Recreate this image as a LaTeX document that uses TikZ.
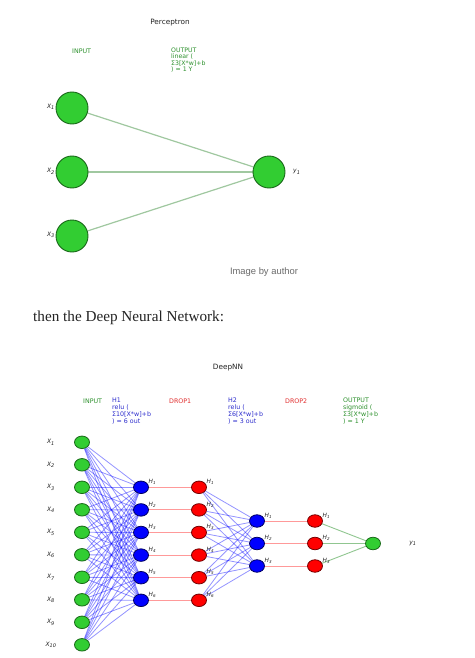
\documentclass[tikz,border=0pt]{standalone}
\usepackage{fontspec}
\setmainfont{DejaVu Sans}
\newfontfamily\serifff{Liberation Serif}
\newfontfamily\medsans{Liberation Sans}
\usetikzlibrary{shapes.geometric,backgrounds}
\pgfdeclarelayer{edgelayer}
\pgfsetlayers{background,edgelayer,main}
\definecolor{ngreen}{RGB}{50,205,50}
\definecolor{ngreenb}{RGB}{25,105,25}
\definecolor{nblue}{RGB}{0,0,255}
\definecolor{nblueb}{RGB}{0,0,95}
\definecolor{nred}{RGB}{255,0,0}
\definecolor{nredb}{RGB}{115,0,0}
\definecolor{tgreen}{RGB}{45,145,45}
\definecolor{tblue}{RGB}{45,45,205}
\definecolor{tred}{RGB}{225,45,45}
\definecolor{pedge}{RGB}{160,200,160}
\definecolor{titlec}{RGB}{35,35,35}
\tikzset{
  pnode/.style={circle,minimum size=32pt,inner sep=0pt,fill=ngreen,draw=ngreenb,line width=0.9pt},
  dnode/.style={ellipse,minimum width=15pt,minimum height=12.5pt,inner sep=0pt,line width=0.8pt},
  gnode/.style={dnode,fill=ngreen,draw=ngreenb},
  bnode/.style={dnode,fill=nblue,draw=nblueb},
  rnode/.style={dnode,fill=nred,draw=nredb},
  pedgestyle/.style={draw=pedge,line width=1.2pt},
  bedge/.style={draw=nblue,draw opacity=0.42,line width=0.8pt},
  redge/.style={draw=nred,draw opacity=0.4,line width=0.9pt},
  gedge/.style={draw=ngreen!70!black,draw opacity=0.5,line width=0.9pt},
  small/.style={font=\fontsize{6.3}{6.8}\selectfont,inner sep=0pt,align=left},
  xlab/.style={font=\fontsize{6}{6}\selectfont\itshape,inner sep=0pt,text=titlec},
  hlab/.style={font=\fontsize{5.8}{5.8}\selectfont\itshape,inner sep=0pt,anchor=west,text=titlec},
}
\begin{document}
\begin{tikzpicture}[x=1pt,y=-1pt]
\begin{pgfonlayer}{background}
\fill[white] (0,0) rectangle (474,658);
\end{pgfonlayer}
\useasboundingbox (0,0) rectangle (474,658);

% ---------- Perceptron ----------
\node[font=\fontsize{7.3}{8}\selectfont,text=titlec,inner sep=0pt] (ptitle) at (170,23) {Perceptron};
\node[small,text=tgreen,anchor=west] (pin) at (72,51) {INPUT};
\node[small,text=tgreen,anchor=north west,font=\fontsize{6.2}{6.4}\selectfont] (pout) at (171,47.5) {OUTPUT\\linear (\\Σ3[X*w]+b\\) = 1 Y};

\node[pnode] (p1) at (72,108) {};
\node[pnode] (p2) at (72,172) {};
\node[pnode] (p3) at (72,236) {};
\node[pnode] (py) at (269,172) {};
\node[xlab,anchor=east] (pl1) at (55,107) {X\textsubscript{1}};
\node[xlab,anchor=east] (pl2) at (55,171) {X\textsubscript{2}};
\node[xlab,anchor=east] (pl3) at (55,235) {X\textsubscript{3}};
\node[xlab,anchor=west] (ply) at (293,172) {y\textsubscript{1}};
\begin{pgfonlayer}{edgelayer}
\foreach \k in {1,2,3} \draw[pedgestyle] (p\k) -- (py);
\end{pgfonlayer}

\node[font=\fontsize{9.4}{10}\selectfont\medsans,text=black!58,inner sep=0pt] (cap) at (264,272) {Image by author};
\node[font=\fontsize{15.2}{16}\selectfont\serifff,text=black!86,inner sep=0pt,anchor=west] (sent) at (33,318) {then the Deep Neural Network:};

% ---------- DeepNN ----------
\node[font=\fontsize{7.3}{8}\selectfont,text=titlec,inner sep=0pt] (dtitle) at (228,368) {DeepNN};
\node[small,text=tgreen,anchor=west] (tin) at (83,401) {INPUT};
\node[small,text=tblue,anchor=north west,font=\fontsize{6.3}{7.2}\selectfont] (th1) at (112,397.5) {H1\\relu (\\Σ10[X*w]+b\\) = 6 out};
\node[small,text=tred,anchor=west] (td1) at (169,401) {DROP1};
\node[small,text=tblue,anchor=north west,font=\fontsize{6.3}{7.2}\selectfont] (th2) at (228,397.5) {H2\\relu (\\Σ6[X*w]+b\\) = 3 out};
\node[small,text=tred,anchor=west] (td2) at (285,401) {DROP2};
\node[small,text=tgreen,anchor=north west,font=\fontsize{6.3}{7.2}\selectfont] (tout) at (343,397.5) {OUTPUT\\sigmoid (\\Σ3[X*w]+b\\) = 1 Y};

\foreach \i in {1,...,10} {
  \pgfmathsetmacro\yy{442.3+22.5*(\i-1)}
  \node[gnode] (in\i) at (82,\yy) {};
  \node[xlab] (xl\i) at (51,\yy) {X\textsubscript{\i}};
}
\foreach \j in {1,...,6} {
  \pgfmathsetmacro\yy{487.3+22.6*(\j-1)}
  \node[bnode] (h\j) at (141,\yy) {};
  \node[rnode] (d\j) at (199,\yy) {};
  \node[hlab] (hl\j) at (148.5,\yy-5.5) {H\textsubscript{\j}};
  \node[hlab] (dl\j) at (206.5,\yy-5.5) {H\textsubscript{\j}};
}
\foreach \k/\yy in {1/521,2/543.5,3/566} {
  \node[bnode] (g\k) at (257,\yy) {};
  \node[rnode] (e\k) at (315,\yy) {};
  \node[hlab] (gl\k) at (264.5,\yy-5.5) {H\textsubscript{\k}};
  \node[hlab] (el\k) at (322.5,\yy-5.5) {H\textsubscript{\k}};
}
\node[gnode] (out) at (373,543.5) {};
\node[xlab] (yl) at (413,543.5) {y\textsubscript{1}};

\begin{pgfonlayer}{edgelayer}
\foreach \i in {1,...,10} \foreach \j in {1,...,6} \draw[bedge] (in\i) -- (h\j);
\foreach \j in {1,...,6} \draw[redge] (h\j) -- (d\j);
\foreach \j in {1,...,6} \foreach \k in {1,2,3} \draw[bedge] (d\j) -- (g\k);
\foreach \k in {1,2,3} \draw[redge] (g\k) -- (e\k);
\foreach \k in {1,2,3} \draw[gedge] (e\k) -- (out);
\end{pgfonlayer}
\end{tikzpicture}
\end{document}
